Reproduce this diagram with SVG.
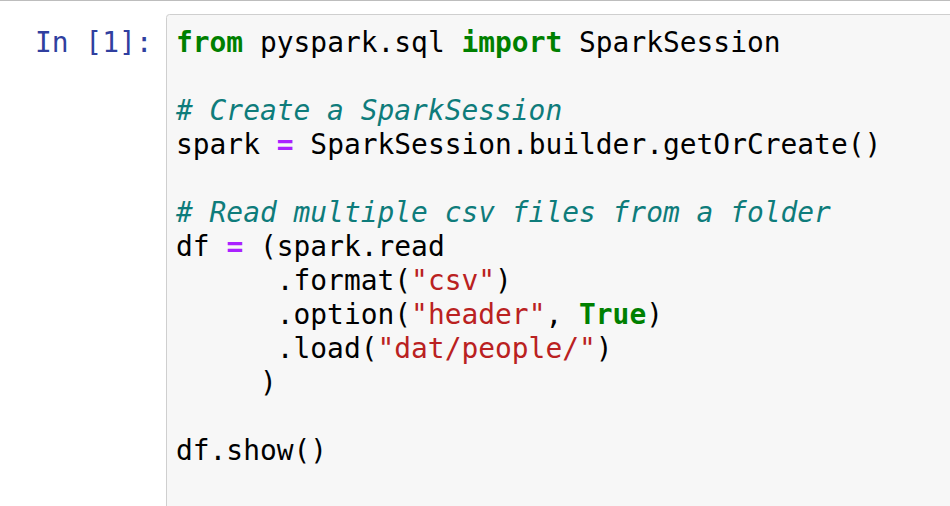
<svg xmlns="http://www.w3.org/2000/svg" width="950" height="506" viewBox="0 0 950 506">
<style>
text{font-family:"DejaVu Sans Mono","Liberation Mono",monospace;font-size:27.9px;fill:#000;white-space:pre}
.k{fill:#008000;font-weight:bold}
.c{fill:#0e7c7b;font-style:italic}
.o{fill:#aa22ff;font-weight:bold}
.s{fill:#ba2121}
.p{fill:#303f9f}
</style>
<rect width="950" height="506" fill="#fff"/>
<line x1="0" y1="0.5" x2="950" y2="0.5" stroke="#bdbdbd"/>
<rect x="166.5" y="14.5" width="800" height="520" rx="3" fill="#f7f7f7" stroke="#cfcfcf"/>
<text class="p" x="35" y="52">In [1]:</text>
<text x="176" y="52"><tspan class="k">from</tspan> pyspark.sql <tspan class="k">import</tspan> SparkSession</text>
<text class="c" x="176" y="120"># Create a SparkSession</text>
<text x="176" y="154">spark <tspan class="o">=</tspan> SparkSession.builder.getOrCreate()</text>
<text class="c" x="176" y="222"># Read multiple csv files from a folder</text>
<text x="176" y="256">df <tspan class="o">=</tspan> (spark.read</text>
<text x="176" y="290">      .format(<tspan class="s">"csv"</tspan>)</text>
<text x="176" y="324">      .option(<tspan class="s">"header"</tspan>, <tspan class="k">True</tspan>)</text>
<text x="176" y="358">      .load(<tspan class="s">"dat/people/"</tspan>)</text>
<text x="176" y="392">     )</text>
<text x="176" y="460">df.show()</text>
</svg>
